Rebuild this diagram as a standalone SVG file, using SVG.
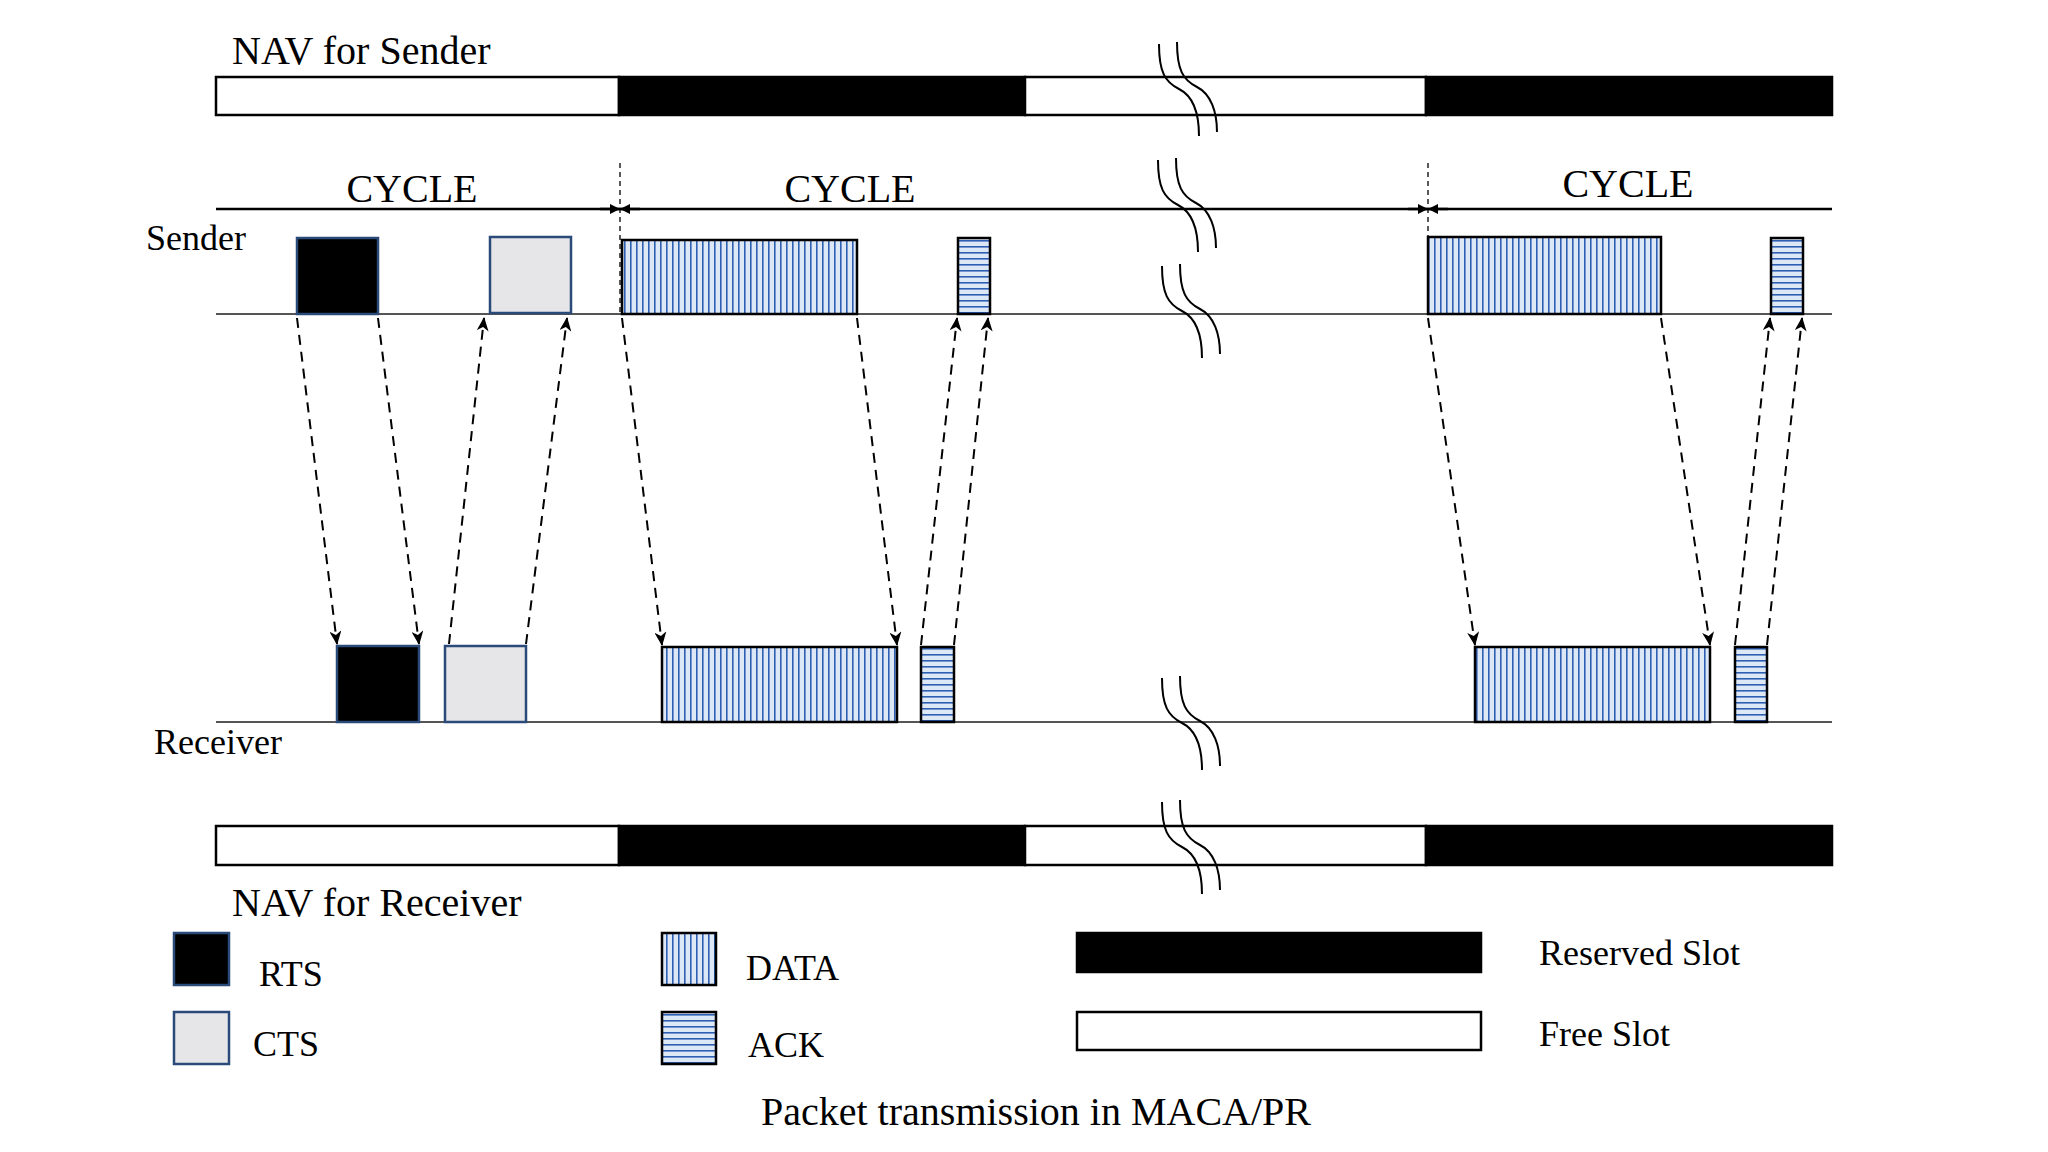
<svg xmlns="http://www.w3.org/2000/svg" width="2048" height="1152" viewBox="0 0 2048 1152">
<defs>
<pattern id="vs" width="6" height="10" patternUnits="userSpaceOnUse"><rect width="6" height="10" fill="#dde8f6"/><rect x="0" width="1.6" height="10" fill="#2f5fb3"/></pattern>
<pattern id="hs" width="10" height="6" patternUnits="userSpaceOnUse"><rect width="10" height="6" fill="#dde8f6"/><rect y="0" width="10" height="1.6" fill="#2f5fb3"/></pattern>
<marker id="ah" markerWidth="14" markerHeight="12" refX="13" refY="6" orient="auto" markerUnits="userSpaceOnUse"><path d="M0,0 L14,6 L0,12 L4,6 z" fill="#000"/></marker>
<marker id="tri" markerWidth="10" markerHeight="10" refX="10" refY="5" orient="auto" markerUnits="userSpaceOnUse"><path d="M0,0 L10,5 L0,10 z" fill="#000"/></marker>
<g id="brk"><path d="M0,0 C0,28 6,38 20,45 C34,52 40,70 40,92" fill="none" stroke="#000" stroke-width="2"/><path d="M18,-2 C18,26 24,36 38,43 C52,50 58,68 58,88" fill="none" stroke="#000" stroke-width="2"/></g>
</defs>
<style>
text{font-family:"Liberation Serif","Times New Roman",serif;fill:#000}
.t{font-size:40px}.s{font-size:36px}
.w{fill:#fff;stroke:#000;stroke-width:2.5}
.b{fill:#000;stroke:#000;stroke-width:2.5}
.rts{fill:#000;stroke:#2a4a7a;stroke-width:2.5}
.cts{fill:#e6e6e8;stroke:#2a4a7a;stroke-width:2.5}
.dat{fill:url(#vs);stroke:#000;stroke-width:2.5}
.ack{fill:url(#hs);stroke:#000;stroke-width:2.5}
.ln{stroke:#555;stroke-width:2;fill:none}
.dl{stroke:#000;stroke-width:2;stroke-dasharray:10,7;fill:none;marker-end:url(#ah)}
</style>
<rect width="2048" height="1152" fill="#fff"/>
<g id="navSender">
<text class="t" x="232" y="64">NAV for Sender</text>
<rect class="w" x="216" y="77" width="403" height="38"/><rect class="b" x="619" y="77" width="406" height="38"/><rect class="w" x="1025" y="77" width="401" height="38"/><rect class="b" x="1426" y="77" width="406" height="38"/>
</g>
<g id="cycles">
<line x1="216" y1="209" x2="1832" y2="209" stroke="#000" stroke-width="2.5"/>
<line x1="620" y1="163" x2="620" y2="312" stroke="#000" stroke-width="1.3" stroke-dasharray="5,4"/>
<line x1="1428" y1="163" x2="1428" y2="236" stroke="#000" stroke-width="1.3" stroke-dasharray="5,4"/>
<line x1="600" y1="209" x2="620" y2="209" stroke="#000" stroke-width="2.5" marker-end="url(#tri)"/>
<line x1="640" y1="209" x2="620" y2="209" stroke="#000" stroke-width="2.5" marker-end="url(#tri)"/>
<line x1="1408" y1="209" x2="1428" y2="209" stroke="#000" stroke-width="2.5" marker-end="url(#tri)"/>
<line x1="1448" y1="209" x2="1428" y2="209" stroke="#000" stroke-width="2.5" marker-end="url(#tri)"/>
<text class="t" x="412" y="202" text-anchor="middle">CYCLE</text>
<text class="t" x="850" y="202" text-anchor="middle">CYCLE</text>
<text class="t" x="1628" y="197" text-anchor="middle">CYCLE</text>
</g>
<g id="sender">
<text class="s" x="146" y="250">Sender</text>
<line class="ln" x1="216" y1="314" x2="1832" y2="314"/>
<rect class="rts" x="297" y="238" width="81" height="76"/>
<rect class="cts" x="490" y="237" width="81" height="76"/>
<rect class="dat" x="622" y="240" width="235" height="74"/>
<rect class="ack" x="958" y="238" width="32" height="76"/>
<rect class="dat" x="1428" y="237" width="233" height="77"/>
<rect class="ack" x="1771" y="238" width="32" height="76"/>
</g>
<g id="receiver">
<text class="s" x="154" y="754">Receiver</text>
<line class="ln" x1="216" y1="722" x2="1832" y2="722"/>
<rect class="rts" x="337" y="646" width="82" height="76"/>
<rect class="cts" x="445" y="646" width="81" height="76"/>
<rect class="dat" x="662" y="647" width="235" height="75"/>
<rect class="ack" x="921" y="647" width="33" height="75"/>
<rect class="dat" x="1475" y="647" width="235" height="75"/>
<rect class="ack" x="1735" y="647" width="32" height="75"/>
</g>
<g id="navReceiver">
<rect class="w" x="216" y="826" width="403" height="39"/><rect class="b" x="619" y="826" width="406" height="39"/><rect class="w" x="1025" y="826" width="401" height="39"/><rect class="b" x="1426" y="826" width="406" height="39"/>
<text class="t" x="232" y="916">NAV for Receiver</text>
</g>
<g id="breaks">
<use href="#brk" x="1159" y="44"/>
<use href="#brk" x="1158" y="160"/>
<use href="#brk" x="1162" y="266"/>
<use href="#brk" x="1162" y="678"/>
<use href="#brk" x="1162" y="802"/>
</g>
<g id="connectors">
<line class="dl" x1="297" y1="318" x2="337" y2="644"/>
<line class="dl" x1="378" y1="318" x2="419" y2="644"/>
<line class="dl" x1="449" y1="644" x2="484" y2="318"/>
<line class="dl" x1="526" y1="644" x2="567" y2="318"/>
<line class="dl" x1="622" y1="318" x2="662" y2="645"/>
<line class="dl" x1="857" y1="318" x2="897" y2="645"/>
<line class="dl" x1="921" y1="645" x2="957" y2="318"/>
<line class="dl" x1="954" y1="645" x2="988" y2="318"/>
<line class="dl" x1="1428" y1="318" x2="1475" y2="645"/>
<line class="dl" x1="1661" y1="318" x2="1710" y2="645"/>
<line class="dl" x1="1735" y1="645" x2="1770" y2="318"/>
<line class="dl" x1="1767" y1="645" x2="1802" y2="318"/>
</g>
<g id="legend">
<rect class="rts" x="174" y="933" width="55" height="52"/><text class="s" x="259" y="986">RTS</text>
<rect class="cts" x="174" y="1012" width="55" height="52"/><text class="s" x="253" y="1056">CTS</text>
<rect class="dat" x="662" y="933" width="54" height="52"/><text class="s" x="746" y="980">DATA</text>
<rect class="ack" x="662" y="1012" width="54" height="52"/><text class="s" x="748" y="1057">ACK</text>
<rect class="b" x="1077" y="933" width="404" height="39"/><text class="s" x="1539" y="965">Reserved Slot</text>
<rect class="w" x="1077" y="1012" width="404" height="38"/><text class="s" x="1539" y="1046">Free Slot</text>
<text class="t" x="761" y="1125">Packet transmission in MACA/PR</text>
</g>
</svg>
